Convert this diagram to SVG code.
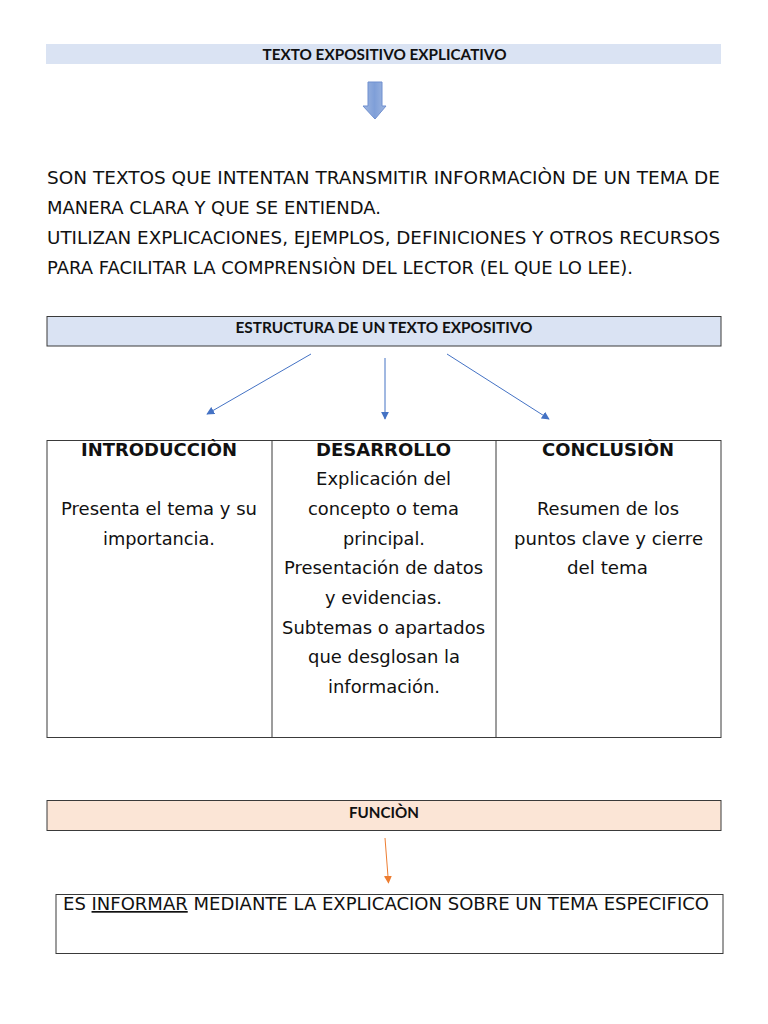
<svg xmlns="http://www.w3.org/2000/svg" width="768" height="1024" viewBox="0 0 768 1024">
<defs>
<style>
.hdr{font-family:Lato,"Open Sans","Liberation Sans",sans-serif;font-weight:bold;font-size:16px;fill:#111;text-anchor:middle}
.body{font-family:"DejaVu Sans",sans-serif;font-size:17px;fill:#111}
.cell{font-family:"DejaVu Sans",sans-serif;font-size:17px;fill:#111;text-anchor:middle}
.cellh{font-family:"DejaVu Sans",sans-serif;font-size:17px;font-weight:bold;fill:#111;text-anchor:middle}
.box{stroke:#3a3a3a;stroke-width:1}
.blue{stroke:#4472c4;stroke-width:1;fill:none}
.orange{stroke:#ed7d31;stroke-width:1;fill:none}
</style>
<linearGradient id="bg" x1="0" y1="0" x2="1" y2="0">
<stop offset="0" stop-color="#9fb6e0"/><stop offset="0.5" stop-color="#7f9fd8"/><stop offset="1" stop-color="#9fb6e0"/>
</linearGradient>
<marker id="mb" viewBox="0 0 10 10" refX="9" refY="5" markerWidth="8" markerHeight="8" markerUnits="userSpaceOnUse" orient="auto">
<path d="M0,0 L10,5 L0,10 z" fill="#4472c4"/>
</marker>
<marker id="mo" viewBox="0 0 10 10" refX="9" refY="5" markerWidth="8" markerHeight="8" markerUnits="userSpaceOnUse" orient="auto">
<path d="M0,0 L10,5 L0,10 z" fill="#ed7d31"/>
</marker>
</defs>
<rect width="768" height="1024" fill="#fff"/>

<g id="title">
<rect x="46" y="44" width="675" height="20" fill="#dae3f3"/>
<text class="hdr" x="384.5" y="59.5" textLength="244" lengthAdjust="spacingAndGlyphs">TEXTO EXPOSITIVO EXPLICATIVO</text>
</g>

<g id="block-arrow">
<path d="M368,82 H382 V106 H386 L375,119 L363,106 H368 Z" fill="url(#bg)" stroke="#6f8fcf" stroke-width="1"/>
</g>

<g id="paragraph">
<text class="body" x="47" y="184" textLength="673" lengthAdjust="spacingAndGlyphs">SON TEXTOS QUE INTENTAN TRANSMITIR INFORMACIÒN DE UN TEMA DE</text>
<text class="body" x="47" y="214" textLength="334" lengthAdjust="spacingAndGlyphs">MANERA CLARA Y QUE SE ENTIENDA.</text>
<text class="body" x="47" y="244" textLength="673" lengthAdjust="spacingAndGlyphs">UTILIZAN EXPLICACIONES, EJEMPLOS, DEFINICIONES Y OTROS RECURSOS</text>
<text class="body" x="47" y="274" textLength="586" lengthAdjust="spacingAndGlyphs">PARA FACILITAR LA COMPRENSIÒN DEL LECTOR (EL QUE LO LEE).</text>
</g>

<g id="estructura">
<rect class="box" x="47" y="316.5" width="674" height="29.5" fill="#dae3f3"/>
<text class="hdr" x="384" y="332.5" textLength="297" lengthAdjust="spacingAndGlyphs">ESTRUCTURA DE UN TEXTO EXPOSITIVO</text>
</g>

<g id="connectors">
<line class="blue" x1="311" y1="354" x2="207" y2="414" marker-end="url(#mb)"/>
<line class="blue" x1="385" y1="358" x2="385" y2="419" marker-end="url(#mb)"/>
<line class="blue" x1="447" y1="354" x2="549" y2="419" marker-end="url(#mb)"/>
<line class="orange" x1="385" y1="838" x2="388.5" y2="883" marker-end="url(#mo)"/>
</g>

<g id="table">
<rect class="box" x="47" y="440.5" width="674" height="297" fill="none"/>
<line class="box" x1="272" y1="440.5" x2="272" y2="737.5"/>
<line class="box" x1="496" y1="440.5" x2="496" y2="737.5"/>
</g>

<g id="introduccion">
<text class="cellh" x="159" y="456" textLength="156" lengthAdjust="spacingAndGlyphs">INTRODUCCIÒN</text>
<text class="cell" x="159" y="515" textLength="196" lengthAdjust="spacingAndGlyphs">Presenta el tema y su</text>
<text class="cell" x="159" y="545" textLength="112" lengthAdjust="spacingAndGlyphs">importancia.</text>
</g>

<g id="desarrollo">
<text class="cellh" x="383.5" y="456" textLength="135" lengthAdjust="spacingAndGlyphs">DESARROLLO</text>
<text class="cell" x="383.5" y="485" textLength="135" lengthAdjust="spacingAndGlyphs">Explicación del</text>
<text class="cell" x="383.5" y="515" textLength="151" lengthAdjust="spacingAndGlyphs">concepto o tema</text>
<text class="cell" x="384" y="545" textLength="82" lengthAdjust="spacingAndGlyphs">principal.</text>
<text class="cell" x="383.5" y="574" textLength="199" lengthAdjust="spacingAndGlyphs">Presentación de datos</text>
<text class="cell" x="383.5" y="604" textLength="117" lengthAdjust="spacingAndGlyphs">y evidencias.</text>
<text class="cell" x="383.5" y="634" textLength="203" lengthAdjust="spacingAndGlyphs">Subtemas o apartados</text>
<text class="cell" x="384" y="663" textLength="152" lengthAdjust="spacingAndGlyphs">que desglosan la</text>
<text class="cell" x="384" y="693" textLength="112" lengthAdjust="spacingAndGlyphs">información.</text>
</g>

<g id="conclusion">
<text class="cellh" x="608" y="456" textLength="132" lengthAdjust="spacingAndGlyphs">CONCLUSIÒN</text>
<text class="cell" x="608" y="515" textLength="142" lengthAdjust="spacingAndGlyphs">Resumen de los</text>
<text class="cell" x="608.5" y="545" textLength="189" lengthAdjust="spacingAndGlyphs">puntos clave y cierre</text>
<text class="cell" x="607.5" y="574" textLength="81" lengthAdjust="spacingAndGlyphs">del tema</text>
</g>

<g id="funcion">
<rect class="box" x="47" y="800.5" width="674" height="30" fill="#fbe5d6"/>
<text class="hdr" x="384" y="817.5" textLength="70" lengthAdjust="spacingAndGlyphs">FUNCIÒN</text>
</g>

<g id="definicion">
<rect class="box" x="56" y="894.5" width="667" height="59" fill="none"/>
<text class="body" x="63" y="910" textLength="646" lengthAdjust="spacingAndGlyphs">ES <tspan text-decoration="underline">INFORMAR</tspan> MEDIANTE LA EXPLICACION SOBRE UN TEMA ESPECIFICO</text>
</g>
</svg>
